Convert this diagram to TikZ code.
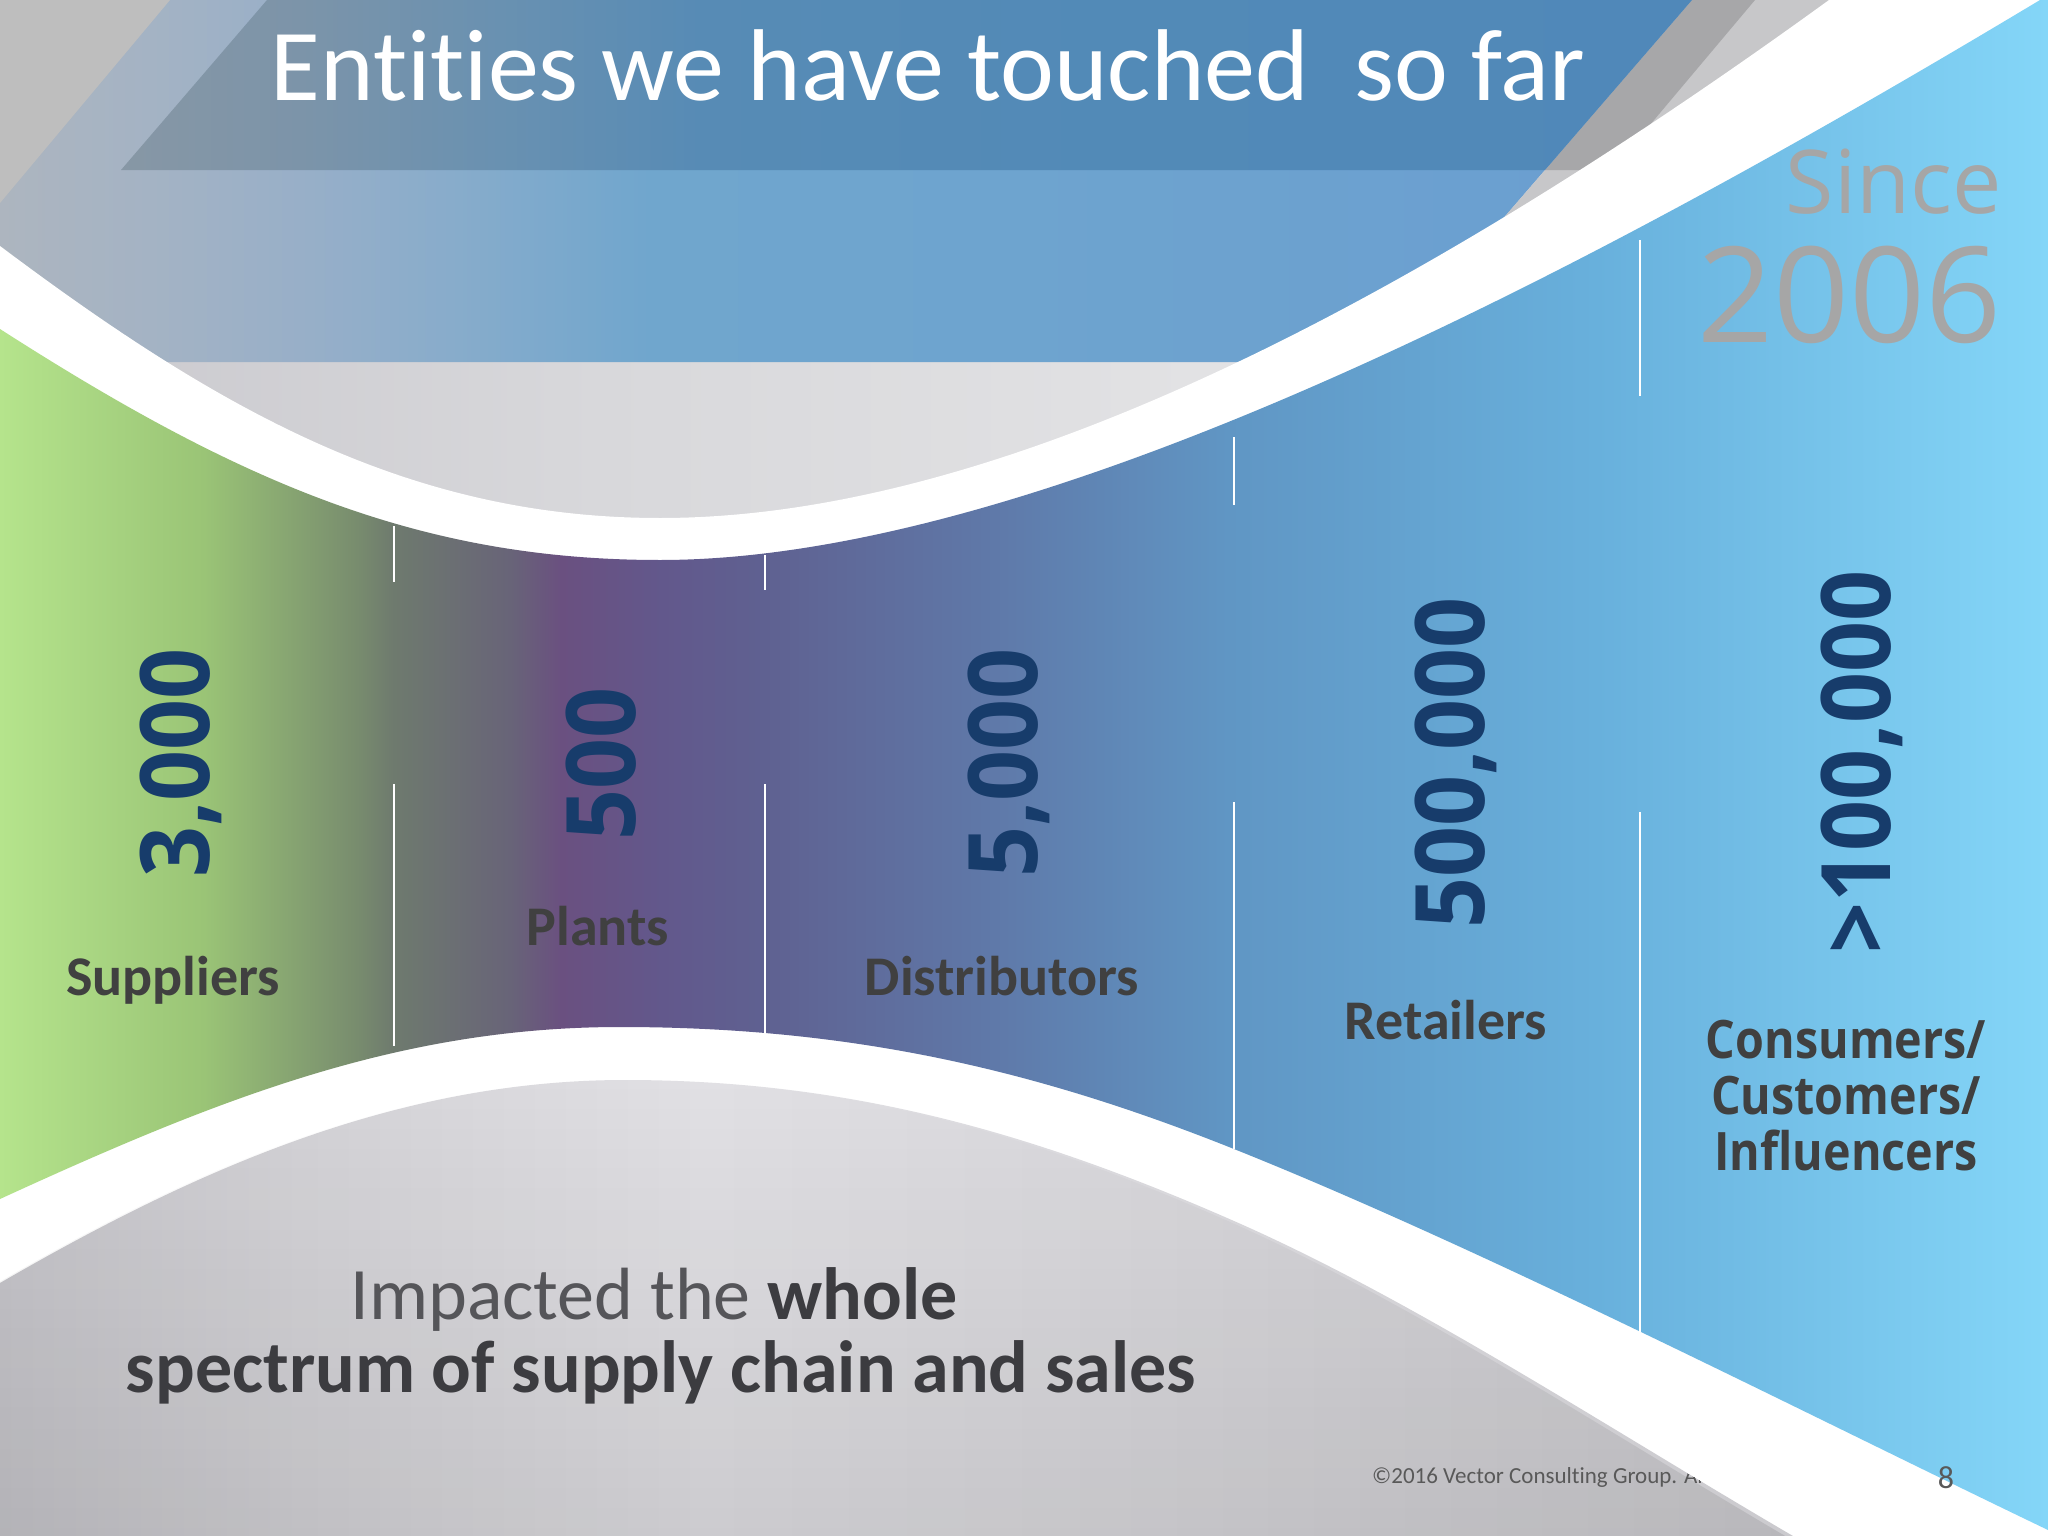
\documentclass[tikz,border=0pt]{standalone}
\usepackage{fontspec}
\usetikzlibrary{fadings}
\setmainfont{Carlito}[Ligatures=NoCommon]
\newfontfamily\osans{Open Sans}
\newfontfamily\numfont{Open Sans}[FakeStretch=0.93]
\newfontfamily\consfont{Open Sans}[FakeStretch=0.88]
\definecolor{navy}{HTML}{173C6B}
\definecolor{labgray}{HTML}{404040}
\definecolor{sincegray}{HTML}{A6A6A6}
\definecolor{copygray}{HTML}{595959}
\definecolor{implight}{HTML}{555559}
\definecolor{impdark}{HTML}{3C3C40}
\definecolor{tlgray}{HTML}{BEBEBE}
\definecolor{stripelight}{HTML}{C7C7C9}
\definecolor{stripedark}{HTML}{A7A7A9}
% band colours
\definecolor{bA}{HTML}{B5E48C}\definecolor{bB}{HTML}{9AC476}\definecolor{bC}{HTML}{788C6E}
\definecolor{bD}{HTML}{6E7A6E}\definecolor{bE}{HTML}{686478}\definecolor{bF}{HTML}{6A5080}
\definecolor{bG}{HTML}{62588C}\definecolor{bH}{HTML}{5F6191}\definecolor{bI}{HTML}{5F7AAA}
\definecolor{bJ}{HTML}{6096C4}\definecolor{bK}{HTML}{68B0DC}\definecolor{bL}{HTML}{84D6F8}
\pgfdeclarehorizontalshading{bandshade}{100bp}{color(0bp)=(bA); color(25bp)=(bA);
 color(29.98bp)=(bB); color(33.72bp)=(bC); color(34.62bp)=(bD); color(37.45bp)=(bE);
 color(38.70bp)=(bF); color(41.19bp)=(bG); color(43.68bp)=(bH); color(49.51bp)=(bI);
 color(54.98bp)=(bJ); color(63.96bp)=(bK); color(75bp)=(bL); color(100bp)=(bL)}
% blue rectangle
\definecolor{uA}{HTML}{ADB5BF}\definecolor{uB}{HTML}{A4B3C4}\definecolor{uC}{HTML}{98AFC8}
\definecolor{uD}{HTML}{88ACCB}\definecolor{uE}{HTML}{70A6CD}\definecolor{uF}{HTML}{6EA4CF}
\definecolor{uG}{HTML}{6A9ED0}
\pgfdeclarehorizontalshading{blueshade}{100bp}{color(0bp)=(uA); color(25bp)=(uA);
 color(29.43bp)=(uB); color(33.87bp)=(uC); color(38.30bp)=(uD); color(44.21bp)=(uE);
 color(54.55bp)=(uF); color(75bp)=(uG); color(100bp)=(uG)}
% header
\definecolor{hA}{HTML}{8797A5}\definecolor{hB}{HTML}{7C94A9}\definecolor{hC}{HTML}{6991B1}
\definecolor{hD}{HTML}{578BB5}\definecolor{hE}{HTML}{528AB7}\definecolor{hF}{HTML}{5088B9}
\pgfdeclarehorizontalshading{headshade}{100bp}{color(0bp)=(hA); color(25bp)=(hA);
 color(30.70bp)=(hB); color(37.06bp)=(hC); color(43.43bp)=(hD); color(56.16bp)=(hE);
 color(75bp)=(hF); color(100bp)=(hF)}
% upper grey
\definecolor{gA}{HTML}{C9C8CD}\definecolor{gB}{HTML}{D8D8DB}\definecolor{gC}{HTML}{E2E2E4}
\pgfdeclarehorizontalshading{uppergray}{100bp}{color(0bp)=(gA); color(25bp)=(gA);
 color(39.65bp)=(gB); color(54.30bp)=(gC); color(75bp)=(gC); color(100bp)=(gC)}
% bottom grey
\definecolor{kA}{HTML}{C6C5CA}\definecolor{kB}{HTML}{D4D3D7}\definecolor{kC}{HTML}{E1E0E4}
\definecolor{kD}{HTML}{DAD9DD}\definecolor{kE}{HTML}{CBCACE}
\pgfdeclarehorizontalshading{bottomgray}{100bp}{color(0bp)=(kA); color(25bp)=(kA);
 color(33.43bp)=(kB); color(44.66bp)=(kC); color(55.90bp)=(kD); color(75bp)=(kE); color(100bp)=(kE)}

\begin{document}
\begin{tikzpicture}[x=1pt,y=-1pt,
  num/.style={rotate=90, anchor=base, inner sep=0pt, text=navy,
    font=\numfont\bfseries\fontsize{96}{100}\selectfont},
  lab/.style={anchor=base, inner sep=0pt, text=labgray,
    font=\bfseries\fontsize{56}{60}\selectfont},
  cons/.style={anchor=base, inner sep=0pt, text=labgray,
    font=\consfont\bfseries\fontsize{53}{56}\selectfont},
  divider/.style={draw=white, line width=2.5pt}]
\useasboundingbox (0,0) rectangle (2048,1536);

% upper background
\shade[shading=uppergray] (0,0) rectangle (2048,620);
\shade[shading=blueshade] (0,0) -- (1692,0) -- (1379,362) -- (0,362) -- cycle;
\fill[tlgray] (0,0) -- (170,0) -- (0,203) -- cycle;
\fill[stripelight] (1692,0) -- (2048,0) -- (2048,620) -- (1156,620) -- cycle;
\fill[stripedark] (1692,0) -- (1755,0) -- (1612,170) -- (1545,170) -- cycle;
\shade[shading=headshade] (267,0) -- (1692,0) -- (1545,170) -- (121,170) -- cycle;

% white sweep
\fill[white] (0,246) .. controls (220,411) and (410,518) .. (660,518)
  .. controls (1010,518) and (1429,290) .. (1829,0)
  -- (2048,0) -- (2048,1536) -- (0,1536) -- cycle;

% coloured band
\shade[shading=bandshade] (0,329) .. controls (240,483) and (420,560) .. (660,560)
  .. controls (1060,560) and (1640,240) .. (2040,0)
  -- (2048,0) -- (2048,1530)
  .. controls (1798,1410) and (1484,1249) .. (1234,1149)
  .. controls (1034,1069) and (850,1027) .. (620,1027)
  .. controls (400,1027) and (220,1098) .. (0,1199) -- cycle;

% bottom grey
\shade[shading=bottomgray] (0,1283) .. controls (200,1167) and (400,1080) .. (625,1080)
  .. controls (850,1080) and (1034,1133) .. (1234,1221)
  .. controls (1414,1300) and (1603,1425) .. (1793,1536) -- (0,1536) -- cycle;
\fill[black, fill opacity=0.09, path fading=north] (0,1283) .. controls (200,1167) and (400,1080) .. (625,1080)
  .. controls (850,1080) and (1034,1133) .. (1234,1221)
  .. controls (1414,1300) and (1603,1425) .. (1793,1536) -- (0,1536) -- cycle;

% dividers
\coordinate (d1t) at (394,526); \coordinate (d1a) at (394,582);
\coordinate (d1b) at (394,784); \coordinate (d1e) at (394,1046);
\coordinate (d2t) at (765,555); \coordinate (d2a) at (765,590);
\coordinate (d2b) at (765,784); \coordinate (d2e) at (765,1037);
\coordinate (d3t) at (1234,437); \coordinate (d3a) at (1234,505);
\coordinate (d3b) at (1234,802); \coordinate (d3e) at (1234,1149);
\coordinate (d4t) at (1640,240); \coordinate (d4a) at (1640,396);
\coordinate (d4b) at (1640,812); \coordinate (d4e) at (1640,1332);
\draw[divider] (d1t) -- (d1a); \draw[divider] (d1b) -- (d1e);
\draw[divider] (d2t) -- (d2a); \draw[divider] (d2b) -- (d2e);
\draw[divider] (d3t) -- (d3a); \draw[divider] (d3b) -- (d3e);
\draw[divider] (d4t) -- (d4a); \draw[divider] (d4b) -- (d4e);

% title
\node[anchor=base, inner sep=0pt, text=white, font=\fontsize{102}{110}\selectfont]
  (title) at (928,101) {Entities we have touched\ \ so far};
\node[anchor=base east, inner sep=0pt, text=sincegray, font=\osans\fontsize{88}{90}\selectfont]
  (since) at (2002,213) {Since};
\node[anchor=base east, inner sep=0pt, text=sincegray, font=\osans\fontsize{133}{140}\selectfont]
  (year) at (2002,342) {2006};

% numbers
\node[num] (n1) at (209,763) {3,000};
\node[num] (n2) at (635,764) {500};
\node[num] (n3) at (1037,763) {5,000};
\node[num] (n4) at (1484,763) {500,000};
\node[num] (n5) at (1890,762) {>100,000};

% labels
\node[lab] (l1) at (173,995) {Suppliers};
\node[lab] (l2) at (598,945) {Plants};
\node[lab] (l3) at (1002,995) {Distributors};
\node[lab] (l4) at (1446,1039) {Retailers};
\node[cons] (l5a) at (1846,1058) {Consumers/};
\node[cons] (l5b) at (1846,1114) {Customers/};
\node[cons] (l5c) at (1846,1170) {Influencers};

% bottom text
\node[anchor=base, inner sep=0pt, font=\fontsize{74}{80}\selectfont]
  (bot1) at (654,1319) {\color{implight}Impacted the \color{impdark}\bfseries whole};
\node[anchor=base, inner sep=0pt, text=impdark, font=\bfseries\fontsize{74}{80}\selectfont]
  (bot2) at (661,1392) {spectrum of supply chain and sales};

% footer
\begin{scope}
\clip (0,1283) .. controls (200,1167) and (400,1080) .. (625,1080)
  .. controls (850,1080) and (1034,1133) .. (1234,1221)
  .. controls (1414,1300) and (1603,1425) .. (1793,1536) -- (0,1536) -- cycle;
\node[anchor=base west, inner sep=0pt, text=copygray, font=\fontsize{23}{25}\selectfont]
  (copy) at (1372,1483) {©2016 Vector Consulting Group. All};
\end{scope}
\node[anchor=base, inner sep=0pt, text=copygray, font=\fontsize{32}{34}\selectfont]
  (page) at (1946,1488) {8};
\end{tikzpicture}
\end{document}
